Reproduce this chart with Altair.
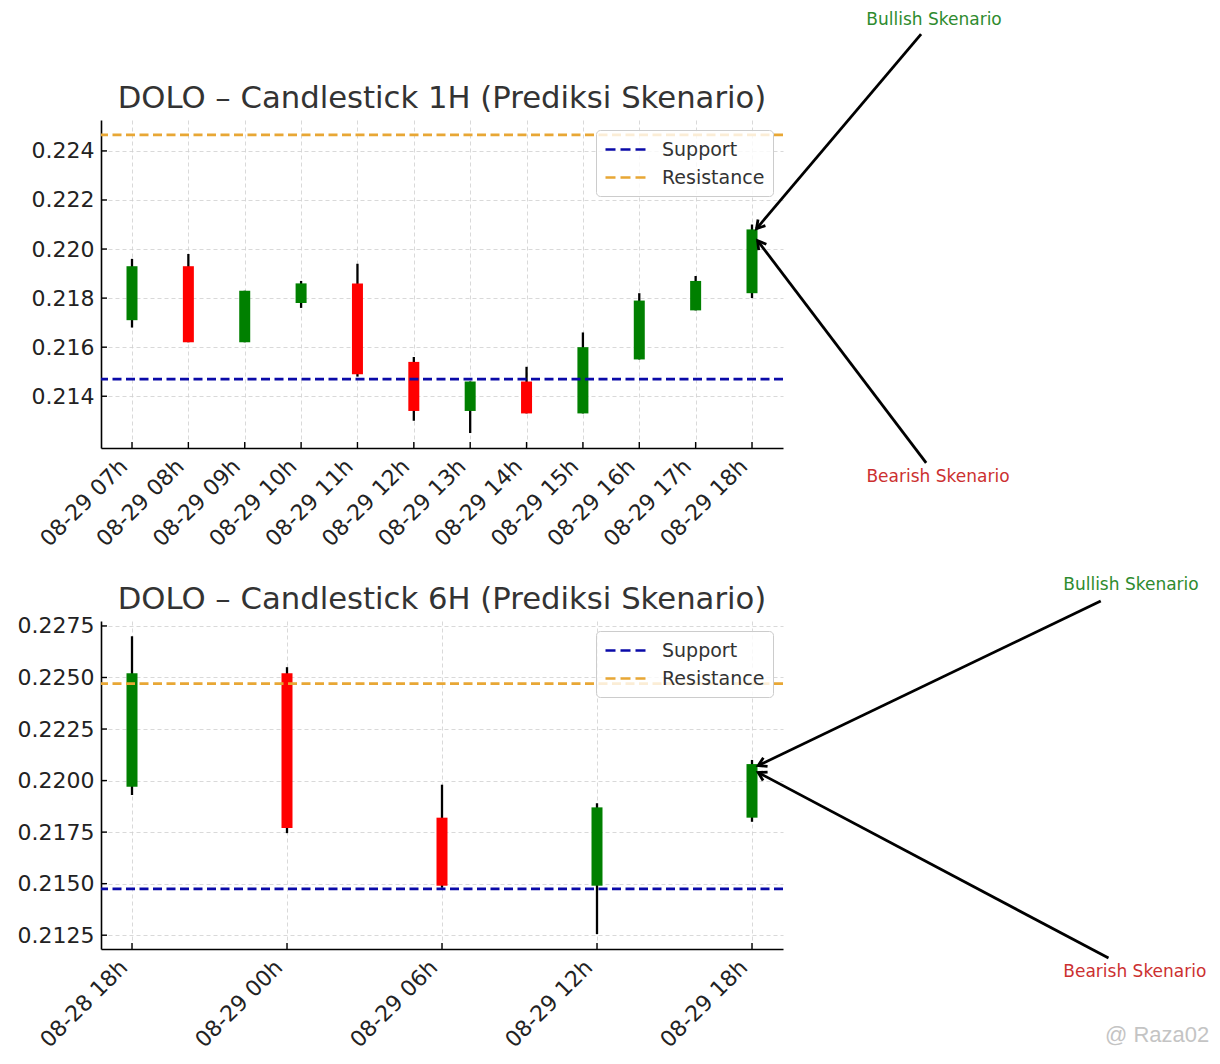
import math
import altair as alt
import pandas as pd

# ---------------- data: 1H ----------------
labels_1h = ["08-29 07h", "08-29 08h", "08-29 09h", "08-29 10h", "08-29 11h", "08-29 12h",
             "08-29 13h", "08-29 14h", "08-29 15h", "08-29 16h", "08-29 17h", "08-29 18h"]
open_1h = [0.2171, 0.2193, 0.2162, 0.2178, 0.2186, 0.2154, 0.2134, 0.2146, 0.2133, 0.2155, 0.2175, 0.2182]
high_1h = [0.2196, 0.2198, 0.2183, 0.2187, 0.2194, 0.2156, 0.2146, 0.2152, 0.2166, 0.2182, 0.2189, 0.2210]
low_1h = [0.2168, 0.2162, 0.2162, 0.2176, 0.2148, 0.2130, 0.2125, 0.2133, 0.2133, 0.2155, 0.2175, 0.2180]
close_1h = [0.2193, 0.2162, 0.2183, 0.2186, 0.2149, 0.2134, 0.2146, 0.2133, 0.2160, 0.2179, 0.2187, 0.2208]
support_1h = 0.2147
resistance_1h = 0.22465
yticks_1h = [0.214, 0.216, 0.218, 0.220, 0.222, 0.224]

# ---------------- data: 6H ----------------
labels_6h = ["08-28 18h", "08-29 00h", "08-29 06h", "08-29 12h", "08-29 18h"]
open_6h = [0.2197, 0.2252, 0.2182, 0.2149, 0.2182]
high_6h = [0.2270, 0.2255, 0.2198, 0.2189, 0.2210]
low_6h = [0.2193, 0.21745, 0.2148, 0.21255, 0.2180]
close_6h = [0.2252, 0.2177, 0.2149, 0.2187, 0.2208]
support_6h = 0.21475
resistance_6h = 0.2247
yticks_6h = [0.2125, 0.2150, 0.2175, 0.2200, 0.2225, 0.2250, 0.2275]

# ---------------- annotations (data coordinates) ----------------
# [text x, text y, arrow start x, arrow start y, arrow tip x, arrow tip y]
bull_1h = [14.23, 0.22935, 14.0, 0.22876, 11.08, 0.22083]
bear_1h = [14.30, 0.21071, 14.09, 0.21128, 11.10, 0.22034]
bull_6h = [6.445, 0.22948, 6.25, 0.22871, 4.04, 0.22073]
bear_6h = [6.47, 0.21071, 6.30, 0.21139, 4.04, 0.22039]
watermark = ["@ Raza02", 6.95, 0.20765]

FONT = "DejaVu Sans"
W = 682
H = 328
GREEN = "#008000"
RED = "#ff0000"
BLUE = "#0a0aa8"
ORANGE = "#e8a735"
ARROW_PATH = "M -1 -0.6 L 0 0 L -1 0.6"


def panel(title, labels, o, h, l, c, support, resistance, xdom, ydom, yticks, yfmt,
          bull, bear, extra_text=None):
    n = len(labels)
    df = pd.DataFrame({"i": list(range(n)), "open": o, "high": h, "low": l, "close": c})
    df["top"] = df[["open", "close"]].max(axis=1)
    df["bot"] = df[["open", "close"]].min(axis=1)

    xs = alt.Scale(domain=xdom, nice=False, zero=False, padding=0)
    ys = alt.Scale(domain=ydom, nice=False, zero=False, padding=0)
    label_expr = "[" + ",".join("'%s'" % s for s in labels) + "][datum.value]"
    xaxis = alt.Axis(values=list(range(n)), labelExpr=label_expr, labelAngle=-45,
                     labelAlign="right", labelBaseline="bottom", title=None, grid=True,
                     labelPadding=23, labelOverlap=False, labelBound=False)
    yaxis = alt.Axis(values=yticks, format=yfmt, title=None, grid=True, labelPadding=7,
                     minExtent=88, labelOverlap=False)

    base = alt.Chart(df)
    wick = base.mark_rule(color="black", strokeWidth=2.3).encode(
        x=alt.X("i:Q", scale=xs, axis=xaxis),
        y=alt.Y("low:Q", scale=ys, axis=yaxis),
        y2="high:Q",
    )
    body = base.mark_bar(size=11).encode(
        x=alt.X("i:Q", title=None),
        y=alt.Y("bot:Q", title=None),
        y2="top:Q",
        color=alt.condition("datum.close >= datum.open", alt.value(GREEN), alt.value(RED)),
    )
    xt = alt.Chart(pd.DataFrame({"i": list(range(n))})).mark_rule(
        color="black", strokeWidth=1.4).encode(
        x=alt.X("i:Q", title=None), y=alt.value(H), y2=alt.value(H - 6))
    yt = alt.Chart(pd.DataFrame({"v": yticks})).mark_rule(
        color="black", strokeWidth=1.4).encode(
        y=alt.Y("v:Q", title=None), x=alt.value(0), x2=alt.value(6))

    lv = pd.DataFrame({"name": ["Support", "Resistance"], "v": [support, resistance]})
    levels = alt.Chart(lv).mark_rule(strokeDash=[9, 4.5], strokeWidth=2.8).encode(
        y=alt.Y("v:Q", title=None),
        color=alt.Color("name:N",
                        scale=alt.Scale(domain=["Support", "Resistance"], range=[BLUE, ORANGE]),
                        legend=alt.Legend(title=None, orient="top-right", offset=10)),
    )

    ttl = alt.Chart(pd.DataFrame({"t": [title]})).mark_text(
        font=FONT, fontSize=30.7, color="#333333", align="center", baseline="middle").encode(
        text="t:N", x=alt.value(W / 2), y=alt.value(-21))

    layers = [xt, yt, wick, body, levels, ttl]

    for note, txt, col in [(bull, "Bullish Skenario", "#2e8b2e"),
                           (bear, "Bearish Skenario", "#cc3030")]:
        sx = W / (xdom[1] - xdom[0])
        sy = H / (ydom[1] - ydom[0])
        dx = (note[4] - note[2]) * sx
        dy = -(note[5] - note[3]) * sy
        ang = math.degrees(math.atan2(dy, dx)) % 360
        ndf = pd.DataFrame({"tx": [note[0]], "ty": [note[1]], "x0": [note[2]], "y0": [note[3]],
                            "x1": [note[4]], "y1": [note[5]], "ang": [ang], "t": [txt]})
        nb = alt.Chart(ndf)
        layers.append(nb.mark_text(font=FONT, fontSize=17, color=col, align="center",
                                   baseline="middle").encode(
            x=alt.X("tx:Q", title=None), y=alt.Y("ty:Q", title=None), text="t:N"))
        layers.append(nb.mark_rule(color="black", strokeWidth=2.8).encode(
            x=alt.X("x0:Q", title=None), y=alt.Y("y0:Q", title=None), x2="x1:Q", y2="y1:Q"))
        layers.append(nb.mark_point(shape=ARROW_PATH, filled=False, size=260, color="black",
                                    strokeWidth=2.8, opacity=1).encode(
            x=alt.X("x1:Q", title=None), y=alt.Y("y1:Q", title=None),
            angle=alt.Angle("ang:Q", scale=None)))

    if extra_text is not None:
        wdf = pd.DataFrame({"t": [extra_text[0]], "x": [extra_text[1]], "y": [extra_text[2]]})
        layers.append(alt.Chart(wdf).mark_text(font="Liberation Sans", fontSize=22,
                                               color="#c4c4c4", align="right",
                                               baseline="middle").encode(
            x=alt.X("x:Q", title=None), y=alt.Y("y:Q", title=None), text="t:N"))

    return alt.layer(*layers).properties(width=W, height=H).resolve_scale(color="independent")


top = panel("DOLO – Candlestick 1H (Prediksi Skenario)", labels_1h, open_1h, high_1h, low_1h,
            close_1h, support_1h, resistance_1h, [-0.55, 11.55], [0.21189, 0.22526],
            yticks_1h, ".3f", bull_1h, bear_1h)
bottom = panel("DOLO – Candlestick 6H (Prediksi Skenario)", labels_6h, open_6h, high_6h, low_6h,
               close_6h, support_6h, resistance_6h, [-0.2, 4.2], [0.21183, 0.22774],
               yticks_6h, ".4f", bull_6h, bear_6h, extra_text=watermark)

chart = alt.vconcat(top, bottom, spacing=25).resolve_scale(
    color="independent").resolve_legend(color="independent").properties(
    padding={"left": 5, "top": 2, "right": 0, "bottom": 2}
).configure_view(stroke=None).configure_axis(
    domainColor="black", domainWidth=1.6, ticks=False,
    labelFont=FONT, labelFontSize=22, labelColor="#222222",
    gridColor="#cfcfcf", gridDash=[4, 3], gridWidth=0.8,
).configure_legend(
    symbolType="M -1 0 L 3 0", symbolDash=[10, 5], symbolStrokeWidth=2.6, symbolSize=400,
    labelFont=FONT, labelFontSize=19, labelColor="#333333",
    fillColor="rgba(255,255,255,0.8)", strokeColor="#cccccc", cornerRadius=4,
    padding=8, rowPadding=6, labelOffset=35,
)

chart.save("out.html", embed_options={"renderer": "svg", "actions": False})
